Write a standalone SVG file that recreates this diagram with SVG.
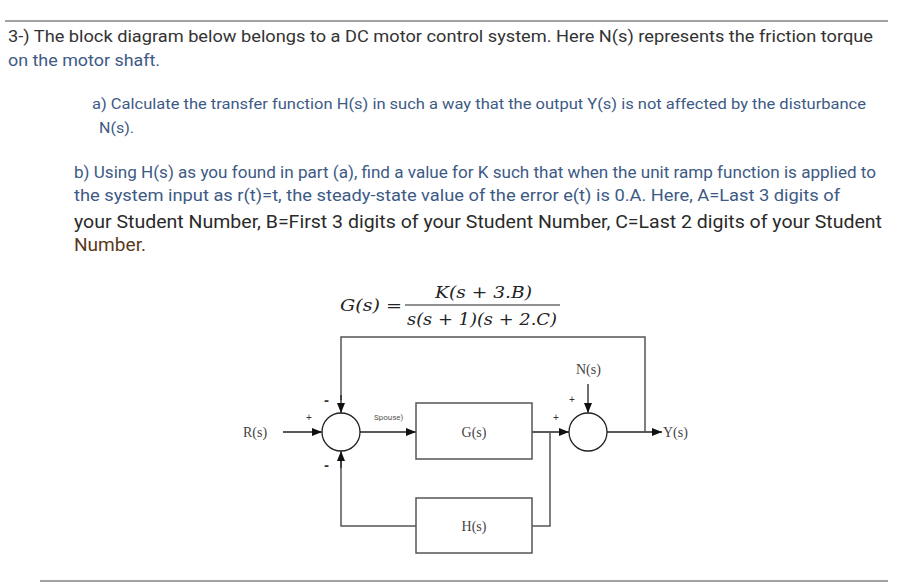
<svg xmlns="http://www.w3.org/2000/svg" width="923" height="588" viewBox="0 0 923 588">
<defs>
<marker id="ar" markerWidth="10" markerHeight="8" refX="10" refY="4" orient="auto" markerUnits="userSpaceOnUse"><path d="M0,0L10,4L0,8z" fill="#111"/></marker>
</defs>
<style>
.t{font-family:Roboto,"Open Sans",sans-serif;font-size:17px}
.bl{fill:#3d5a85}
.dk{fill:#333}
.s{font-family:"Liberation Serif",serif;font-size:14px;fill:#444}
.m{font-family:"DejaVu Serif",serif;font-style:italic;font-size:17px;fill:#222}
.ln{stroke:#555;stroke-width:1.5;fill:none}
.bx{stroke:#555;stroke-width:1.5;fill:#fff}
.c{stroke:#222;stroke-width:1.3;fill:none}
.sg{font-family:"Liberation Sans",sans-serif;font-size:10px;fill:#333}
</style>
<rect width="923" height="588" fill="#fff"/>
<line x1="5" y1="21" x2="888" y2="21" stroke="#444" stroke-width="1"/>
<line x1="40" y1="581" x2="888" y2="581" stroke="#444" stroke-width="1"/>
<text class="t dk" x="8" y="42" textLength="865" lengthAdjust="spacingAndGlyphs">3-) The block diagram below belongs to a DC motor control system. Here N(s) represents the friction torque</text>
<text class="t bl" x="8" y="66" textLength="152" lengthAdjust="spacingAndGlyphs">on the motor shaft.</text>
<text class="t bl" x="92" y="109" style="font-size:15.5px" textLength="774" lengthAdjust="spacingAndGlyphs">a) Calculate the transfer function H(s) in such a way that the output Y(s) is not affected by the disturbance</text>
<text class="t bl" x="99" y="133" style="font-size:15.5px" textLength="35" lengthAdjust="spacingAndGlyphs">N(s).</text>
<text class="t bl" x="74" y="178" style="font-size:16px" textLength="802" lengthAdjust="spacingAndGlyphs">b) Using H(s) as you found in part (a), find a value for K such that when the unit ramp function is applied to</text>
<text class="t bl" x="74" y="201" style="font-size:16px" textLength="766" lengthAdjust="spacingAndGlyphs">the system input as r(t)=t, the steady-state value of the error e(t) is 0.A. Here, A=Last 3 digits of</text>
<text class="t" x="74" y="228" style="font-size:18px;fill:#2a2a2a" textLength="808" lengthAdjust="spacingAndGlyphs">your Student Number, B=First 3 digits of your Student Number, C=Last 2 digits of your Student</text>
<text class="t" x="74" y="251" style="font-size:18px;fill:#5a3a1a" textLength="72" lengthAdjust="spacingAndGlyphs">Number.</text>
<g id="formula">
<text class="m" x="340" y="311" textLength="62" lengthAdjust="spacingAndGlyphs">G(s) =</text>
<text class="m" x="435" y="298" textLength="97" lengthAdjust="spacingAndGlyphs">K(s + 3.B)</text>
<line x1="405" y1="305" x2="560" y2="305" stroke="#222" stroke-width="1.2"/>
<text class="m" x="407" y="325" textLength="150" lengthAdjust="spacingAndGlyphs">s(s + 1)(s + 2.C)</text>
</g>
<g id="connectors">
<line class="c" x1="283" y1="432" x2="322" y2="432" marker-end="url(#ar)"/>
<line class="c" x1="360" y1="432" x2="416" y2="432" marker-end="url(#ar)"/>
<line class="c" x1="532" y1="432" x2="569" y2="432" marker-end="url(#ar)"/>
<line class="c" x1="607" y1="432" x2="662" y2="432" marker-end="url(#ar)"/>
<polyline class="ln" points="645,432 645,337 341,337 341,400"/>
<line class="c" x1="341" y1="395" x2="341" y2="413" marker-end="url(#ar)"/>
<polyline class="ln" points="550,432 550,526 532,526"/>
<polyline class="ln" points="416,526 341,526 341,460"/>
<line class="c" x1="341" y1="468" x2="341" y2="451" marker-end="url(#ar)"/>
<line class="c" x1="588" y1="384" x2="588" y2="413" marker-end="url(#ar)"/>
</g>
<g id="sum1"><circle class="c" cx="341" cy="432" r="19" fill="#fff"/>
<text class="sg" x="306" y="421">+</text><text class="sg" x="324" y="405" style="font-size:15px;font-weight:bold">-</text><text class="sg" x="324" y="470" style="font-size:15px;font-weight:bold">-</text></g>
<g id="sum2"><circle class="c" cx="588" cy="432" r="19" fill="#fff"/>
<text class="sg" x="553" y="421">+</text><text class="sg" x="569" y="403">+</text></g>
<g id="G"><rect class="bx" x="416" y="403" width="116" height="56"/><text class="s" x="474" y="437" text-anchor="middle">G(s)</text></g>
<g id="H"><rect class="bx" x="416" y="498" width="116" height="55"/><text class="s" x="474" y="531" text-anchor="middle">H(s)</text></g>
<text class="s" x="243" y="437">R(s)</text>
<text class="s" x="663" y="437">Y(s)</text>
<text class="s" x="576" y="374">N(s)</text>
<text x="374" y="420" style="font-family:Roboto,sans-serif;font-size:8px;fill:#555">Spouse)</text>
</svg>
